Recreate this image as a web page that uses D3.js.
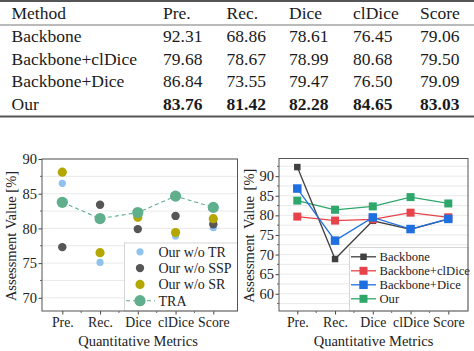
<!DOCTYPE html>
<html><head><meta charset="utf-8">
<script src="https://cdn.jsdelivr.net/npm/d3@7"></script>
<style>
html,body{margin:0;padding:0;background:#fff;}
svg{display:block;}
text{font-family:"Liberation Serif","Times New Roman",serif;}
</style></head>
<body><svg id="c" width="474" height="351"></svg>
<script>
// ---------- data ----------
const metrics = ["Pre.", "Rec.", "Dice", "clDice", "Score"];
const methods = ["Backbone", "Backbone+clDice", "Backbone+Dice", "Our"];
const backbone = [92.31, 68.86, 78.61, 76.45, 79.06];
const backboneClDice = [79.68, 78.67, 78.99, 80.68, 79.50];
const backboneDice = [86.84, 73.55, 79.47, 76.50, 79.09];
const our = [83.76, 81.42, 82.28, 84.65, 83.03];
const ablationNames = ["Our w/o TR", "Our w/o SSP", "Our w/o SR", "TRA"];
const ourWoTR = [86.5, 75.1, 81.9, 78.9, 80.1];
const ourWoSSP = [77.3, 83.4, 79.9, 81.8, 80.6];
const ourWoSR = [88.1, 76.5, 81.6, 79.4, 81.4];
const tra = [83.76, 81.42, 82.28, 84.65, 83.03];
const leftTicks = [70, 75, 80, 85, 90];
const rightTicks = [60, 65, 70, 75, 80, 85, 90];

const FONT = "Liberation Serif";
const svg = d3.select("#c");

// ---------- table ----------
const tableRows = [backbone, backboneClDice, backboneDice, our];
const colX = [11.5, 163, 226.5, 289, 353, 420];
const tg = svg.append("g");
svg.append("rect").attr("x", 0).attr("y", 0).attr("width", 474).attr("height", 2).attr("fill", "#555");
svg.append("rect").attr("x", 0).attr("y", 24.5).attr("width", 474).attr("height", 1).attr("fill", "#777");
svg.append("rect").attr("x", 0).attr("y", 115.5).attr("width", 474).attr("height", 2).attr("fill", "#555");
function ttext(x, y, s, bold) {
  return tg.append("text").attr("x", x).attr("y", y).attr("font-family", FONT)
    .attr("font-size", "17.5px").attr("fill", "#1a1a1a")
    .attr("font-weight", bold ? "bold" : "normal").text(s);
}
const header = ["Method"].concat(metrics);
header.forEach((h, i) => ttext(colX[i], 18.5, h, false));
tableRows.forEach((row, r) => {
  const y = 41.8 + r * 22.7;
  const bold = r === tableRows.length - 1;
  ttext(colX[0], y, methods[r], false);
  row.forEach((v, i) => ttext(colX[i + 1], y, v.toFixed(2), bold));
});

// ---------- generic frame drawing ----------
function frame(g, x0, x1, y, yTicks, xScale, labelX) {
  const [ymin, ymax] = y.domain();
  const top = y(ymax), bot = y(ymin);
  const grid = d3.range(Math.ceil(ymin / 2.5) * 2.5, ymax + 0.001, 2.5);
  g.append("g").selectAll("line").data(grid).join("line")
    .attr("x1", x0).attr("x2", x1).attr("y1", d => y(d)).attr("y2", d => y(d))
    .attr("stroke", "#e3e3e3").attr("stroke-width", 0.8);
  g.append("g").selectAll("line").data(grid.filter(d => !yTicks.includes(d))).join("line")
    .attr("x1", x0 - 2).attr("x2", x0).attr("y1", d => y(d)).attr("y2", d => y(d))
    .attr("stroke", "#444").attr("stroke-width", 0.8);
  const ya = d3.axisLeft(y).tickValues(yTicks).tickSize(3.5).tickPadding(1.5).tickSizeOuter(0);
  const yg = g.append("g").attr("transform", `translate(${x0},0)`).call(ya);
  yg.select(".domain").remove();
  yg.attr("font-family", FONT).attr("font-size", "14.5px");
  yg.selectAll("line").attr("stroke", "#444");
  yg.selectAll("text").attr("fill", "#222");
  const xa = d3.axisBottom(xScale).tickSize(3.5).tickPadding(3).tickSizeOuter(0);
  const xg = g.append("g").attr("transform", `translate(0,${bot})`).call(xa);
  xg.select(".domain").remove();
  xg.attr("font-family", FONT).attr("font-size", "13.8px");
  xg.selectAll("line").attr("stroke", "#444");
  xg.selectAll("text").attr("fill", "#222");
  const dom = xScale.domain();
  const mids = d3.range(dom.length - 1).map(i => (xScale(dom[i]) + xScale(dom[i + 1])) / 2);
  g.append("g").selectAll("line").data(mids).join("line")
    .attr("x1", d => d).attr("x2", d => d).attr("y1", bot).attr("y2", bot + 2)
    .attr("stroke", "#444").attr("stroke-width", 0.8);
  g.append("text").attr("x", labelX).attr("y", 346).attr("text-anchor", "middle")
    .attr("font-family", FONT).attr("font-size", "14.5px").attr("fill", "#222").text("Quantitative Metrics");
}

// ---------- left chart ----------
{
  const g = svg.append("g");
  const x0 = 42, x1 = 237.5;
  const y = d3.scaleLinear().domain([68.1, 90]).range([311, 159]);
  const x = d3.scalePoint().domain(metrics).range([62.3, 213.3]);
  frame(g, x0, x1, y, leftTicks, x, 138);
  g.append("text").attr("transform", `translate(16,${(159 + 311) / 2 + 1}) rotate(-90)`)
    .attr("text-anchor", "middle").attr("font-family", FONT).attr("font-size", "14.5px").attr("fill", "#222")
    .text("Assessment Value [%]");
  const series = [
    {name: ablationNames[0], v: ourWoTR, c: "#8fc2ec", r: 3.6},
    {name: ablationNames[1], v: ourWoSSP, c: "#565656", r: 4.2},
    {name: ablationNames[2], v: ourWoSR, c: "#b4a800", r: 4.6},
    {name: ablationNames[3], v: tra, c: "#5fae8c", r: 5.6, line: true}
  ];
  series.forEach(s => {
    if (s.line) {
      g.append("path").datum(s.v)
        .attr("d", d3.line().x((d, i) => x(metrics[i])).y(d => y(d)))
        .attr("fill", "none").attr("stroke", s.c).attr("stroke-width", 1.1).attr("stroke-dasharray", "4,3");
    }
    g.append("g").selectAll("circle").data(s.v).join("circle")
      .attr("cx", (d, i) => x(metrics[i])).attr("cy", d => y(d)).attr("r", s.r).attr("fill", s.c);
  });
  const lx = 124.5, ly = 243, lw = x1 - lx, lh = 311 - ly;
  g.append("rect").attr("x", lx).attr("y", ly).attr("width", lw).attr("height", lh)
    .attr("fill", "#fff").attr("stroke", "#ccc").attr("stroke-width", 0.8);
  series.forEach((s, i) => {
    const yy = 251.8 + i * 16.3;
    if (s.line) g.append("line").attr("x1", 126).attr("x2", 155).attr("y1", yy).attr("y2", yy)
      .attr("stroke", s.c).attr("stroke-width", 1.1).attr("stroke-dasharray", "4,3");
    g.append("circle").attr("cx", 140).attr("cy", yy).attr("r", s.r).attr("fill", s.c);
    g.append("text").attr("x", 158.5).attr("y", yy + 4.8).attr("font-family", FONT)
      .attr("font-size", "14px").attr("fill", "#222").text(s.name);
  });
  g.append("rect").attr("x", x0).attr("y", 159).attr("width", x1 - x0).attr("height", 311 - 159)
    .attr("fill", "none").attr("stroke", "#555").attr("stroke-width", 1);
}

// ---------- right chart ----------
{
  const g = svg.append("g");
  const x0 = 279, x1 = 468;
  const y = d3.scaleLinear().domain([55.6, 94.5]).range([311, 158.5]);
  const x = d3.scalePoint().domain(metrics).range([297.3, 448.3]);
  frame(g, x0, x1, y, rightTicks, x, 373.5);
  g.append("text").attr("transform", `translate(254,${(158.5 + 311) / 2 + 1}) rotate(-90)`)
    .attr("text-anchor", "middle").attr("font-family", FONT).attr("font-size", "14.5px").attr("fill", "#222")
    .attr("word-spacing", "2px").text("Assessment Value [%]");
  const series = [
    {name: methods[0], v: backbone, c: "#404040", s: 6.5},
    {name: methods[1], v: backboneClDice, c: "#e8434b", s: 8},
    {name: methods[2], v: backboneDice, c: "#1f6fe0", s: 8.5},
    {name: methods[3], v: our, c: "#2ea76a", s: 8}
  ];
  const order = [3, 0, 1, 2];
  order.forEach(k => {
    const s = series[k];
    g.append("path").datum(s.v)
      .attr("d", d3.line().x((d, i) => x(metrics[i])).y(d => y(d)))
      .attr("fill", "none").attr("stroke", s.c).attr("stroke-width", 1.3);
    g.append("g").selectAll("rect").data(s.v).join("rect")
      .attr("x", (d, i) => x(metrics[i]) - s.s / 2).attr("y", d => y(d) - s.s / 2)
      .attr("width", s.s).attr("height", s.s).attr("fill", s.c);
  });
  const lx = 349.5, ly = 247.5;
  g.append("rect").attr("x", lx).attr("y", ly).attr("width", x1 - lx).attr("height", 311 - ly)
    .attr("fill", "#fff").attr("stroke", "#ccc").attr("stroke-width", 0.8);
  series.forEach((s, i) => {
    const yy = 256.8 + i * 14;
    g.append("line").attr("x1", 351).attr("x2", 376).attr("y1", yy).attr("y2", yy)
      .attr("stroke", s.c).attr("stroke-width", 1.3);
    g.append("rect").attr("x", 363.5 - s.s / 2).attr("y", yy - s.s / 2).attr("width", s.s).attr("height", s.s).attr("fill", s.c);
    g.append("text").attr("x", 379.5).attr("y", yy + 4.5).attr("font-family", FONT)
      .attr("font-size", "12.6px").attr("fill", "#222").text(s.name);
  });
  g.append("rect").attr("x", x0).attr("y", 158.5).attr("width", x1 - x0).attr("height", 311 - 158.5)
    .attr("fill", "none").attr("stroke", "#555").attr("stroke-width", 1);
}
</script></body></html>
